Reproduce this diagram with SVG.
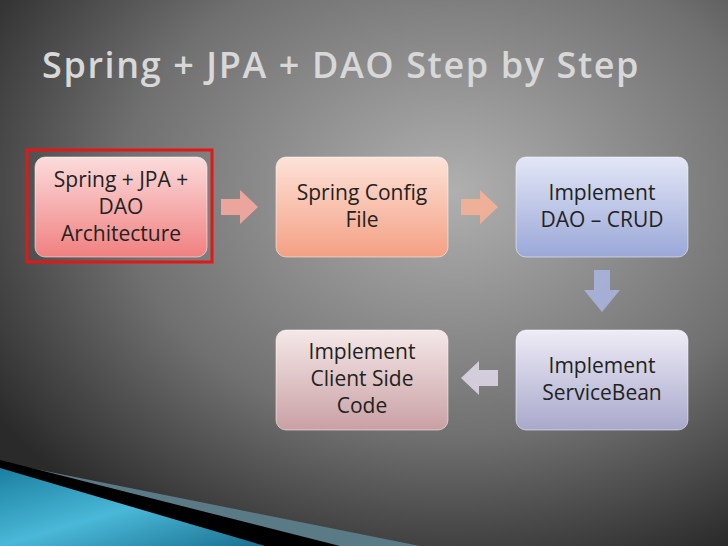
<svg xmlns="http://www.w3.org/2000/svg" width="728" height="546" viewBox="0 0 728 546">
<defs>
<radialGradient id="bg" cx="0.62" cy="0.35" r="0.75"><stop offset="0" stop-color="#b0b0b0"/><stop offset="0.6" stop-color="#707070"/><stop offset="1" stop-color="#2a2a2a"/></radialGradient>
<linearGradient id="g1" x1="0" y1="0" x2="0" y2="1"><stop offset="0" stop-color="#fcdcdc"/><stop offset="1" stop-color="#f08080"/></linearGradient>
<linearGradient id="g2" x1="0" y1="0" x2="0" y2="1"><stop offset="0" stop-color="#fde2d8"/><stop offset="1" stop-color="#f4a084"/></linearGradient>
<linearGradient id="g3" x1="0" y1="0" x2="0" y2="1"><stop offset="0" stop-color="#e2e6f6"/><stop offset="1" stop-color="#9ba8d8"/></linearGradient>
<linearGradient id="g4" x1="0" y1="0" x2="0" y2="1"><stop offset="0" stop-color="#eeecf6"/><stop offset="1" stop-color="#a8a8cc"/></linearGradient>
<linearGradient id="g5" x1="0" y1="0" x2="0" y2="1"><stop offset="0" stop-color="#f5e8e8"/><stop offset="1" stop-color="#c9a0a4"/></linearGradient>
<linearGradient id="blue" x1="0" y1="0" x2="1" y2="1"><stop offset="0" stop-color="#1a7fa0"/><stop offset="0.5" stop-color="#4ab8d8"/><stop offset="1" stop-color="#1a7090"/></linearGradient>
</defs>
<style>
.t{font-family:"Open Sans","DejaVu Sans",sans-serif;font-size:21px;fill:#222;text-anchor:middle}
.b{stroke:#fff;stroke-opacity:0.5;stroke-width:1}
</style>
<rect width="728" height="546" fill="url(#bg)"/>
<path d="M0 462 L420 546 L0 546Z" fill="#5a7a86"/>
<path d="M0 460 L340 546 L0 546Z" fill="#000"/>
<path d="M0 468 L265 546 L0 546Z" fill="url(#blue)"/>
<text x="42" y="78" font-family="'Open Sans','DejaVu Sans',sans-serif" font-size="36" font-weight="600" fill="#d8d8d8" letter-spacing="1.6">Spring + JPA + DAO Step by Step</text>
<g id="connectors" fill-opacity="0.9">
<path d="M221 199 H240 V190 L258 207 L240 224 V215 H221Z" fill="#f6a8a0"/>
<path d="M461 199 H480 V190 L498 207 L480 224 V215 H461Z" fill="#f6b098"/>
<path d="M594 270 V290 H584 L602 312 L620 290 H610 V270Z" fill="#a8b2dc"/>
<path d="M498 370 H479 V361 L461 378 L479 395 V386 H498Z" fill="#ddd6e6"/>
</g>
<g id="n1"><rect x="27" y="150" width="185" height="112" fill="none" stroke="#e01818" stroke-width="3"/><rect class="b" x="35" y="157" width="172" height="100" rx="10" fill="url(#g1)"/>
<text class="t" x="121" y="187">Spring + JPA +</text><text class="t" x="121" y="214">DAO</text><text class="t" x="121" y="241">Architecture</text></g>
<g id="n2"><rect class="b" x="276" y="157" width="172" height="100" rx="10" fill="url(#g2)"/>
<text class="t" x="362" y="200">Spring Config</text><text class="t" x="362" y="227">File</text></g>
<g id="n3"><rect class="b" x="516" y="157" width="172" height="100" rx="10" fill="url(#g3)"/>
<text class="t" x="602" y="200">Implement</text><text class="t" x="602" y="227">DAO – CRUD</text></g>
<g id="n4"><rect class="b" x="516" y="330" width="172" height="100" rx="10" fill="url(#g4)"/>
<text class="t" x="602" y="373">Implement</text><text class="t" x="602" y="400">ServiceBean</text></g>
<g id="n5"><rect class="b" x="276" y="330" width="172" height="100" rx="10" fill="url(#g5)"/>
<text class="t" x="362" y="359">Implement</text><text class="t" x="362" y="386">Client Side</text><text class="t" x="362" y="413">Code</text></g>
<text x="708" y="532" font-family="'Open Sans',sans-serif" font-size="9" fill="#333">3</text>
</svg>
